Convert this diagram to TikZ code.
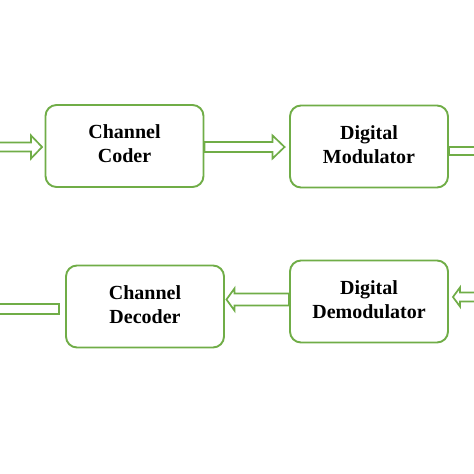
\documentclass[tikz,border=0pt]{standalone}
\usepackage{fontspec}
\setmainfont{Liberation Serif}
\usetikzlibrary{calc}
\definecolor{boxgreen}{HTML}{70AD47}
\newcommand{\twoline}[2]{\raisebox{4pt}{\begin{tabular}{@{}c@{}}#1\\#2\end{tabular}}}
\tikzset{
  blockbox/.style={draw=boxgreen, line width=1.9pt, rounded corners=11pt,
    minimum width=158pt, minimum height=82pt, inner sep=0pt,
    font=\bfseries\fontsize{20}{24}\selectfont, text=black},
  hollow/.style n args={3}{draw=boxgreen, line width=1.7pt, line join=miter,
    to path={let \p1=(\tikztostart), \p2=(\tikztotarget), \n1={((\x2>\x1)*2-1)} in
      ({\x1},{\y1+#1}) -- ({\x2-(\n1)*#3},{\y1+#1}) -- ({\x2-(\n1)*#3},{\y1+#2})
      -- ({\x2},{\y1}) -- ({\x2-(\n1)*#3},{\y1-#2}) -- ({\x2-(\n1)*#3},{\y1-#1})
      -- ({\x1},{\y1-#1}) -- cycle}}
}
\begin{document}
\begin{tikzpicture}[x=1pt,y=-1pt]
\useasboundingbox (0,0) rectangle (474,474);
\fill[white] (0,0) rectangle (474,474);
% blocks
\node[blockbox] (cc) at (124.5,146) {\twoline{Channel}{Coder}};
\node[blockbox] (dm) at (369,146.5) {\twoline{Digital}{Modulator}};
\node[blockbox] (cd) at (145,306.5) {\twoline{Channel}{Decoder}};
\node[blockbox] (dd) at (369,301.5) {\twoline{Digital}{Demodulator}};
% free ends
\coordinate (inL) at (-6,147);
\coordinate (outR) at (500,142);
\coordinate (inR) at (480,297);
\coordinate (outL) at (-26,304);
% connectors
\draw[hollow={4.5pt}{11.5pt}{11pt}] (inL) to ([xshift=-2.5pt,yshift=1pt]cc.west);
\draw[hollow={5pt}{11.5pt}{12pt}] ([yshift=-1pt]cc.east) to ([xshift=-4.5pt,yshift=-1.5pt]dm.west);
\draw[hollow={4pt}{10pt}{10pt}] ([yshift=-4.5pt]dm.east) to (outR);
\draw[hollow={4.5pt}{9.5pt}{7pt}] (inR) to ([xshift=4pt,yshift=-4.5pt]dd.east);
\draw[hollow={6pt}{11pt}{8pt}] ([yshift=2pt]dd.west) to ([xshift=1.5pt,yshift=-2.5pt]cd.east);
\draw[hollow={5pt}{10pt}{10pt}] ([xshift=-6pt,yshift=-2.5pt]cd.west) to (outL);
\end{tikzpicture}
\end{document}
